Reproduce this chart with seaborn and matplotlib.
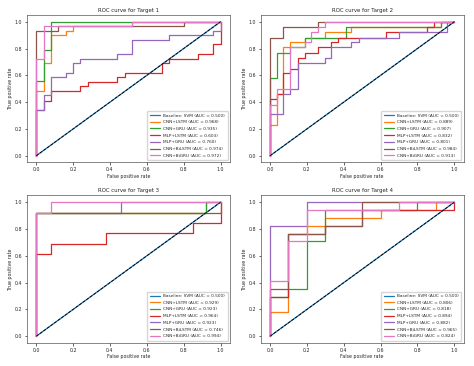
import numpy as np
import pandas as pd
import matplotlib
matplotlib.use("Agg")
import matplotlib.pyplot as plt
import seaborn as sns

models = ["CNN+LSTM", "CNN+GRU", "MLP+LSTM", "MLP+GRU", "CNN+BiLSTM", "CNN+BiGRU"]
colors = ["#ff7f0e", "#2ca02c", "#d62728", "#9467bd", "#8c564b", "#e377c2"]

auc_t1 = [0.968, 0.935, 0.603, 0.760, 0.974, 0.972]
auc_t2 = [0.889, 0.907, 0.832, 0.801, 0.984, 0.913]
auc_t3 = [0.929, 0.923, 0.964, 0.923, 0.746, 0.994]
auc_t4 = [0.806, 0.818, 0.894, 0.882, 0.965, 0.824]

# ROC corner points (fpr, tpr)
t1_fpr = [
    [0, 0, 0.04, 0.04, 0.08, 0.08, 0.16, 0.16, 0.2, 0.2, 0.52, 0.52, 1],
    [0, 0, 0.04, 0.04, 0.08, 0.08, 1],
    [0, 0, 0.04, 0.04, 0.08, 0.08, 0.24, 0.24, 0.28, 0.28, 0.44, 0.44, 0.48, 0.48, 0.68, 0.68, 0.72, 0.72, 0.88, 0.88, 0.96, 0.96, 1, 1],
    [0, 0, 0.04, 0.04, 0.08, 0.08, 0.16, 0.16, 0.2, 0.2, 0.24, 0.24, 0.44, 0.44, 0.52, 0.52, 0.72, 0.72, 0.96, 0.96, 1, 1],
    [0, 0, 0.12, 0.12, 0.8, 0.8, 1],
    [0, 0, 0.04, 0.04, 0.52, 0.52, 1],
]
t1_tpr = [
    [0, 0.48, 0.48, 0.69, 0.69, 0.90, 0.90, 0.93, 0.93, 0.965, 0.965, 1, 1],
    [0, 0.555, 0.555, 0.79, 0.79, 1, 1],
    [0, 0.34, 0.34, 0.41, 0.41, 0.48, 0.48, 0.52, 0.52, 0.55, 0.55, 0.59, 0.59, 0.62, 0.62, 0.69, 0.69, 0.72, 0.72, 0.76, 0.76, 0.83, 0.83, 1],
    [0, 0.34, 0.34, 0.45, 0.45, 0.59, 0.59, 0.62, 0.62, 0.69, 0.69, 0.72, 0.72, 0.76, 0.76, 0.86, 0.86, 0.90, 0.90, 0.93, 0.93, 1],
    [0, 0.93, 0.93, 0.965, 0.965, 1, 1],
    [0, 0.72, 0.72, 0.965, 0.965, 1, 1],
]

t2_fpr = [
    [0, 0, 0.04, 0.04, 0.07, 0.07, 0.11, 0.11, 0.19, 0.19, 0.3, 0.3, 0.44, 0.44, 0.93, 0.93, 1],
    [0, 0, 0.04, 0.04, 0.11, 0.11, 0.19, 0.19, 0.41, 0.41, 0.93, 0.93, 1],
    [0, 0, 0.04, 0.04, 0.07, 0.07, 0.11, 0.11, 0.15, 0.15, 0.19, 0.19, 0.26, 0.26, 0.33, 0.33, 0.37, 0.37, 0.63, 0.63, 0.85, 0.85, 0.89, 0.89, 1],
    [0, 0, 0.07, 0.07, 0.11, 0.11, 0.15, 0.15, 0.3, 0.3, 0.33, 0.33, 0.44, 0.44, 0.48, 0.48, 0.7, 0.7, 0.96, 0.96, 1],
    [0, 0, 0.07, 0.07, 0.26, 0.26, 1],
    [0, 0, 0.04, 0.04, 0.11, 0.11, 0.19, 0.19, 0.22, 0.22, 0.26, 0.26, 0.3, 0.3, 1],
]
t2_tpr = [
    [0, 0.23, 0.23, 0.46, 0.46, 0.81, 0.81, 0.85, 0.85, 0.88, 0.88, 0.92, 0.92, 0.96, 0.96, 1, 1],
    [0, 0.58, 0.58, 0.77, 0.77, 0.81, 0.81, 0.88, 0.88, 0.96, 0.96, 1, 1],
    [0, 0.42, 0.42, 0.46, 0.46, 0.62, 0.62, 0.65, 0.65, 0.73, 0.73, 0.77, 0.77, 0.81, 0.81, 0.85, 0.85, 0.88, 0.88, 0.92, 0.92, 0.96, 0.96, 1, 1],
    [0, 0.31, 0.31, 0.46, 0.46, 0.5, 0.5, 0.69, 0.69, 0.73, 0.73, 0.81, 0.81, 0.85, 0.85, 0.88, 0.88, 0.92, 0.92, 1, 1],
    [0, 0.88, 0.88, 0.96, 0.96, 1, 1],
    [0, 0.38, 0.38, 0.5, 0.5, 0.81, 0.81, 0.85, 0.85, 0.92, 0.92, 0.96, 0.96, 1, 1],
]

t3_fpr = [
    [0, 0, 0.92, 0.92, 1],
    [0, 0, 0.92, 0.92, 1],
    [0, 0, 0.08, 0.08, 0.38, 0.38, 0.85, 0.85, 1, 1],
    [0, 0, 0.46, 0.46, 1],
    [0, 0, 1, 1],
    [0, 0, 0.08, 0.08, 1],
]
t3_tpr = [
    [0, 0.92, 0.92, 1, 1],
    [0, 0.92, 0.92, 1, 1],
    [0, 0.615, 0.615, 0.69, 0.69, 0.77, 0.77, 0.846, 0.846, 1],
    [0, 0.92, 0.92, 1, 1],
    [0, 0.92, 0.92, 1],
    [0, 0.92, 0.92, 1, 1],
]

t4_fpr = [
    [0, 0, 0.1, 0.1, 0.2, 0.2, 0.3, 0.3, 0.6, 0.6, 0.9, 0.9, 1],
    [0, 0, 0.1, 0.1, 0.2, 0.2, 0.3, 0.3, 0.8, 0.8, 1],
    [0, 0, 0.1, 0.1, 0.3, 0.3, 0.5, 0.5, 1, 1],
    [0, 0, 0.2, 0.2, 1],
    [0, 0, 0.1, 0.1, 0.3, 0.3, 0.5, 0.5, 1],
    [0, 0, 0.1, 0.1, 0.2, 0.2, 0.7, 0.7, 1, 1],
]
t4_tpr = [
    [0, 0.18, 0.18, 0.76, 0.76, 0.82, 0.82, 0.88, 0.88, 0.94, 0.94, 1, 1],
    [0, 0.29, 0.29, 0.35, 0.35, 0.71, 0.71, 0.94, 0.94, 1, 1],
    [0, 0.29, 0.29, 0.76, 0.76, 0.82, 0.82, 0.94, 0.94, 1],
    [0, 0.82, 0.82, 1, 1],
    [0, 0.35, 0.35, 0.76, 0.76, 0.82, 0.82, 1, 1],
    [0, 0.41, 0.41, 0.71, 0.71, 0.94, 0.94, 1, 1, 1],
]

targets = [
    (t1_fpr, t1_tpr, auc_t1),
    (t2_fpr, t2_tpr, auc_t2),
    (t3_fpr, t3_tpr, auc_t3),
    (t4_fpr, t4_tpr, auc_t4),
]

sns.set_style("ticks")
plt.rcParams["font.family"] = ["DejaVu Sans"]

fig, axes = plt.subplots(2, 2, figsize=(4.74, 3.66), dpi=100)
plt.subplots_adjust(left=0.057, right=0.978, bottom=0.063, top=0.959, wspace=0.153, hspace=0.224)

for k, (ax, (fprs, tprs, aucs)) in enumerate(zip(axes.flat, targets)):
    base = pd.DataFrame({"fpr": [0, 1], "tpr": [0, 1]})
    sns.lineplot(data=base, x="fpr", y="tpr", ax=ax, color="#1f77b4", lw=0.9,
                 label="Baseline: SVM (AUC = 0.500)")
    for name, col, f, t, a in zip(models, colors, fprs, tprs, aucs):
        df = pd.DataFrame({"fpr": f, "tpr": t})
        sns.lineplot(data=df, x="fpr", y="tpr", ax=ax, sort=False, estimator=None,
                     color=col, lw=0.9, label=f"{name} (AUC = {a:.3f})")
    ax.plot([0, 1], [0, 1], color="k", ls="--", lw=0.6)
    ax.set_title(f"ROC curve for Target {k + 1}", fontsize=3.9, pad=2.5)
    ax.set_xlabel("False positive rate", fontsize=3.4, labelpad=1.2)
    ax.set_ylabel("True positive rate", fontsize=3.4, labelpad=1.5)
    ax.set_xticks([0, 0.2, 0.4, 0.6, 0.8, 1.0])
    ax.set_yticks([0, 0.2, 0.4, 0.6, 0.8, 1.0])
    ax.tick_params(labelsize=3.4, length=1.8, width=0.5, pad=1.5)
    for s in ax.spines.values():
        s.set_linewidth(0.5)
        s.set_color("#555555")
    ax.legend(loc="lower right", fontsize=3.1, frameon=True, handlelength=2.3,
              borderpad=0.6, labelspacing=0.62, handletextpad=0.8)

fig.savefig("out.png", dpi=100)
